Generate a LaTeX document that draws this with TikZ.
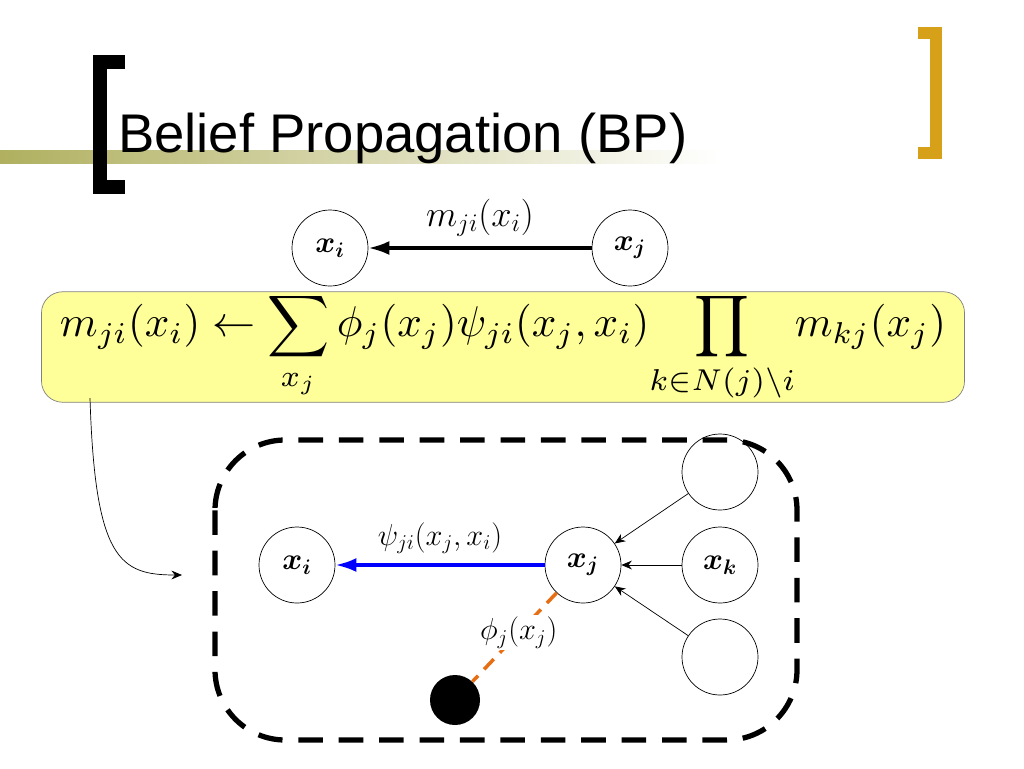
\documentclass[tikz,border=0pt]{standalone}
\usepackage{fontspec}
\setmainfont{Liberation Serif}
\setsansfont{Liberation Sans}
\usepackage{amsmath}
\usetikzlibrary{arrows.meta,positioning}
\definecolor{olivebar}{RGB}{176,176,96}
\definecolor{goldbr}{RGB}{214,160,24}
\definecolor{boxyellow}{RGB}{255,255,153}
\definecolor{phiorange}{RGB}{230,110,20}
\tikzset{
  var/.style={draw,circle,minimum size=76\px,inner sep=0pt,font=\LARGE\bfseries\itshape},
  msg/.style={-{Latex[length=12pt,width=8pt]}},
  thinmsg/.style={-{Stealth[length=6pt,width=5pt]},thin},
  lbl/.style={text=black,font=\huge}
}
\newcommand{\px}{*0.02cm}
\begin{document}
\begin{tikzpicture}[x=0.02cm,y=-0.02cm]
\useasboundingbox (0,0) rectangle (1024,768);
% title
\shade[left color=olivebar,right color=white] (0,150) rectangle (720,163);
\draw[line width=14\px] (125,62) -- (100,62) -- (100,187) -- (125,187);
\draw[goldbr,line width=12\px] (918,33) -- (936,33) -- (936,153) -- (918,153);
\node[anchor=base west,font=\sffamily,scale=3.1,inner sep=0pt] (title) at (117,152) {Belief Propagation (BP)};
% top pair
\node[var] (ti) at (330,248) {$\boldsymbol{x_i}$};
\node[var] (tj) at (630,248) {$\boldsymbol{x_j}$};
\draw[msg,line width=2pt] (tj) -- (ti) node[midway,above=2pt,lbl] {$m_{ji}(x_i)$};
% update rule
\node[draw=gray,fill=boxyellow,rounded corners=12pt,minimum width=923\px,minimum height=100\px,inner sep=0pt] (rule) at (503,347)
  {\scalebox{2.45}{$m_{ji}(x_i)\leftarrow\displaystyle\sum_{x_j}\phi_j(x_j)\psi_{ji}(x_j,x_i)\!\prod_{k\in N(j)\setminus i}\!m_{kj}(x_j)$}};
% local neighbourhood
\draw[dashed,line width=3pt,dash pattern=on 14pt off 9pt,rounded corners=40pt] (215,440) rectangle (797,740);
\coordinate (cin) at (182,575);
\draw[thinmsg] (90,398) .. controls (95,560) and (120,575) .. (cin);
\node[var] (xi) at (297,565) {$\boldsymbol{x_i}$};
\node[var] (xj) at (583,565) {$\boldsymbol{x_j}$};
\node[var] (xk) at (720,565) {$\boldsymbol{x_k}$};
\node[var] (na) at (720,472) {};
\node[var] (nb) at (720,657) {};
\node[circle,fill=black,minimum size=50\px,inner sep=0pt] (ev) at (455,700) {};
\draw[msg,blue,line width=2pt] (xj) -- (xi) node[midway,above=2pt,lbl,font=\LARGE] {$\psi_{ji}(x_j,x_i)$};
\draw[phiorange,line width=2pt,dashed,dash pattern=on 8pt off 5pt] (xj) -- (ev) node[pos=0.45,fill=white,inner sep=1pt,lbl,font=\LARGE] {$\phi_j(x_j)$};
\foreach \n in {na,xk,nb} \draw[thinmsg] (\n) -- (xj);
\end{tikzpicture}
\end{document}
